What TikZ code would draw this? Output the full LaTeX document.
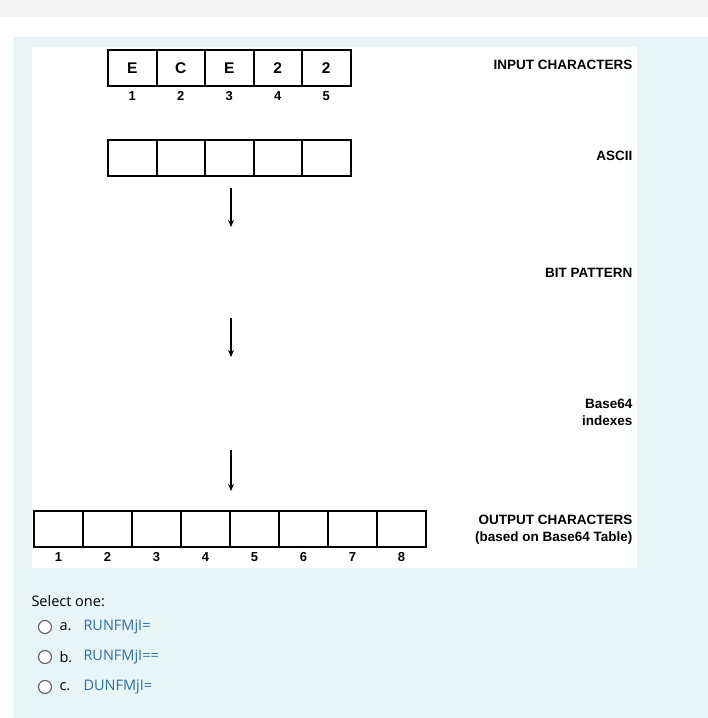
\documentclass[tikz,border=0pt]{standalone}
\usepackage{fontspec}
\usetikzlibrary{arrows.meta}
\setmainfont{Liberation Sans}
\newfontfamily\uifont{Open Sans}
\definecolor{panel}{HTML}{E7F5F7}
\definecolor{panelb}{HTML}{CDE6EA}
\definecolor{ans}{HTML}{2F6FA7}
\begin{document}
\begin{tikzpicture}[x=1pt,y=-1pt,
  cell/.style={draw,line width=2pt,minimum width=48.5pt,minimum height=36pt,inner sep=0,font=\bfseries\fontsize{15.5}{15.5}\selectfont},
  num/.style={font=\bfseries\fontsize{13}{13}\selectfont},
  lab/.style={anchor=east,align=right,font=\bfseries\fontsize{13.5}{17}\selectfont},
  arr/.style={-{Stealth[length=7pt,width=6pt]},line width=1.3pt},
  radio/.style={circle,draw=gray!80!black,line width=1.2pt,minimum size=13pt,inner sep=0,fill=white},
  opt/.style={anchor=west,font=\uifont\fontsize{14.5}{14.5}\selectfont}]
\useasboundingbox (0,0) rectangle (708,718);
\fill[gray!8] (0,0) rectangle (708,17);
\draw[panelb,fill=panel,rounded corners=2pt] (14,37) rectangle (712,722);
\fill[white] (32,47) rectangle (637,568);
\foreach \c [count=\i] in {E,C,E,2,2}{
  \node[cell] (in\i) at (108+48.5*\i-24.25,68) {\c};
  \node[num] (inn\i) at (108+48.5*\i-24.25,96) {\i};}
\foreach \i in {1,...,5}{
  \node[cell] (as\i) at (108+48.5*\i-24.25,158) {};}
\foreach \i in {1,...,8}{
  \node[cell,minimum width=49pt] (out\i) at (34+49*\i-24.5,529) {};
  \node[num] (outn\i) at (34+49*\i-24.5,557) {\i};}
\coordinate (a1) at (231,188); \coordinate (b1) at (231,227);
\coordinate (a2) at (231,318); \coordinate (b2) at (231,357);
\coordinate (a3) at (231,450); \coordinate (b3) at (231,491);
\draw[arr] (a1)--(b1); \draw[arr] (a2)--(b2); \draw[arr] (a3)--(b3);
\node[lab] (l1) at (636,65) {INPUT CHARACTERS};
\node[lab] (l2) at (636,156) {ASCII};
\node[lab] (l3) at (636,273) {BIT PATTERN};
\node[lab] (l4) at (636,412) {Base64\\indexes};
\node[lab] (l5) at (636,530) {OUTPUT CHARACTERS\\(based on Base64 Table)};
\node[opt] (sel) at (28,601) {Select one:};
\foreach \l/\t/\y in {a./RUNFMjI=/627,b./RUNFMjI==/657,c./DUNFMjI=/687}{
  \node[radio] at (45,\y) {};
  \node[opt] at (56,\y) {\l};
  \node[opt,text=ans] at (80,\y) {\t};}
\end{tikzpicture}
\end{document}
